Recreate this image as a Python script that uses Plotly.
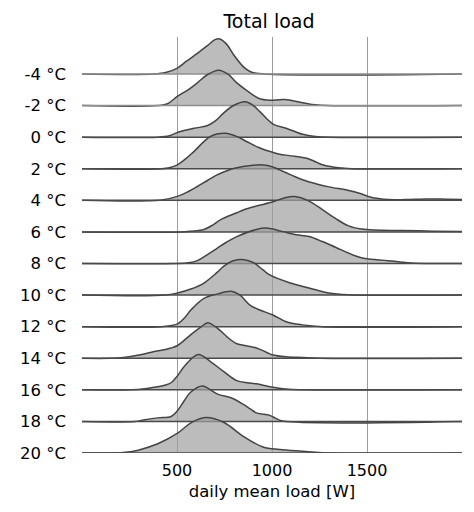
import plotly.graph_objects as go

# temperature classes, top to bottom
labels = ["-4 °C", "-2 °C", "0 °C", "2 °C", "4 °C", "6 °C", "8 °C",
          "10 °C", "12 °C", "14 °C", "16 °C", "18 °C", "20 °C"]

load_m4 = [0, 380, 440, 500, 550, 607, 660, 700, 725, 760, 797, 850, 884, 930, 2000]
dens_m4 = [0, 0, 0.04, 0.16, 0.36, 0.58, 0.80, 0.97, 0.99, 0.85, 0.55, 0.20, 0.07, 0.01, 0]

load_m2 = [0, 400, 450, 502, 560, 607, 659, 720, 770, 815, 884, 936, 988, 1066, 1161, 1230, 1290, 2000]
dens_m2 = [0, 0, 0.05, 0.26, 0.45, 0.64, 0.87, 1.0, 0.88, 0.64, 0.36, 0.19, 0.15, 0.17, 0.08, 0.02, 0, 0]

load_0 = [0, 400, 460, 502, 590, 658, 700, 745, 800, 858, 900, 936, 1005, 1074, 1120, 1161, 1230, 1300, 2000]
dens_0 = [0, 0, 0.04, 0.13, 0.25, 0.32, 0.45, 0.68, 0.9, 1.0, 0.9, 0.72, 0.37, 0.25, 0.16, 0.08, 0.02, 0, 0]

load_2 = [0, 420, 460, 502, 550, 590, 676, 754, 810, 866, 930, 988, 1040, 1092, 1178, 1220, 1265, 1320, 1370, 1420, 2000]
dens_2 = [0, 0, 0.03, 0.11, 0.3, 0.49, 0.91, 1.0, 0.92, 0.77, 0.6, 0.49, 0.41, 0.37, 0.3, 0.22, 0.11, 0.05, 0.02, 0, 0]

load_4 = [0, 420, 502, 560, 607, 660, 711, 770, 815, 880, 953, 1000, 1040, 1100, 1161, 1230, 1300, 1403,
          1460, 1507, 1560, 1611, 1700, 1780, 1851, 1920, 2000]
dens_4 = [0, 0.01, 0.11, 0.25, 0.39, 0.56, 0.72, 0.85, 0.92, 0.98, 1.0, 0.95, 0.86, 0.72, 0.58, 0.47, 0.38, 0.28,
          0.2, 0.11, 0.05, 0.02, 0.02, 0.03, 0.04, 0.03, 0.02]

load_6 = [0, 520, 572, 642, 690, 728, 815, 849, 918, 1005, 1060, 1118, 1195, 1265, 1334, 1403, 1472, 1540,
          1680, 1850, 2000]
dens_6 = [0, 0, 0.02, 0.07, 0.2, 0.34, 0.54, 0.62, 0.73, 0.85, 0.95, 1.0, 0.87, 0.63, 0.38, 0.17, 0.08, 0.05,
          0.04, 0.02, 0.01]

load_8 = [0, 500, 560, 607, 660, 711, 760, 815, 918, 970, 1057, 1126, 1195, 1265, 1334, 1437, 1489, 1611,
          1714, 1800, 2000]
dens_8 = [0, 0, 0.02, 0.08, 0.25, 0.43, 0.6, 0.76, 0.96, 1.0, 0.9, 0.81, 0.76, 0.62, 0.46, 0.22, 0.14, 0.08,
          0.02, 0, 0]

load_10 = [0, 440, 503, 573, 642, 711, 745, 797, 853, 901, 953, 988, 1092, 1195, 1299, 1403, 2000]
dens_10 = [0, 0, 0.06, 0.17, 0.34, 0.64, 0.81, 0.97, 1.0, 0.92, 0.71, 0.57, 0.35, 0.2, 0.06, 0.01, 0]

load_12 = [0, 420, 503, 540, 573, 642, 711, 785, 832, 884, 936, 1005, 1074, 1161, 1265, 2000]
dens_12 = [0, 0, 0.08, 0.25, 0.47, 0.8, 0.92, 1.0, 0.89, 0.61, 0.47, 0.33, 0.14, 0.05, 0, 0]

load_14 = [0, 150, 230, 300, 365, 469, 503, 573, 625, 662, 700, 728, 780, 815, 849, 918, 970, 1000, 1074,
           1161, 1250, 2000]
dens_14 = [0, 0, 0.03, 0.09, 0.17, 0.29, 0.36, 0.67, 0.88, 1.0, 0.9, 0.78, 0.53, 0.41, 0.37, 0.29, 0.17, 0.1, 0.04,
           0.02, 0, 0]

load_16 = [0, 261, 330, 365, 434, 469, 503, 538, 611, 676, 745, 815, 918, 988, 1074, 1160, 2000]
dens_16 = [0, 0, 0.03, 0.06, 0.13, 0.2, 0.4, 0.66, 1.0, 0.8, 0.52, 0.26, 0.17, 0.09, 0.02, 0, 0]

load_18 = [0, 280, 330, 399, 469, 503, 540, 573, 633, 711, 797, 849, 884, 918, 988, 1022, 1057, 2000]
dens_18 = [0, 0, 0.05, 0.1, 0.14, 0.31, 0.6, 0.83, 1.0, 0.78, 0.64, 0.48, 0.36, 0.24, 0.17, 0.08, 0.01, 0]

load_20 = [0, 150, 230, 296, 399, 503, 573, 650, 745, 849, 953, 1040, 1161, 1265, 2000]
dens_20 = [0, 0, 0.02, 0.08, 0.26, 0.56, 0.85, 1.0, 0.87, 0.47, 0.17, 0.1, 0.05, 0.01, 0]

loads = [load_m4, load_m2, load_0, load_2, load_4, load_6, load_8,
         load_10, load_12, load_14, load_16, load_18, load_20]
dens = [dens_m4, dens_m2, dens_0, dens_2, dens_4, dens_6, dens_8,
        dens_10, dens_12, dens_14, dens_16, dens_18, dens_20]

x_ticks = [500, 1000, 1500]
x_min, x_max = 0, 2000

scale = 1.12  # ridge height relative to row spacing
fig = go.Figure()

# rows drawn top to bottom, lower ridges lie over the upper baselines
for i in range(len(labels)):
    base = -i
    fig.add_trace(go.Scatter(x=[x_min, x_max], y=[base, base], mode="lines",
                             line=dict(width=0, color="rgba(0,0,0,0)"),
                             hoverinfo="skip", showlegend=False))
    fig.add_trace(go.Scatter(x=loads[i], y=[base + v * scale for v in dens[i]],
                             mode="lines", fill="tonexty", fillcolor="rgba(160,160,160,0.7)",
                             line=dict(color="#444444", width=1.5, shape="spline", smoothing=1),
                             name=labels[i], showlegend=False))
    col = "#8f8f8f" if i < 2 else "#4a4a4a"
    fig.add_trace(go.Scatter(x=[x_min, x_max], y=[base, base], mode="lines",
                             line=dict(color=col, width=1.5),
                             hoverinfo="skip", showlegend=False))

# the page body adds 8px, so margins are shifted to compensate
fig.update_layout(
    width=474, height=512,
    margin=dict(l=68, r=20, t=29, b=67),
    plot_bgcolor="white", paper_bgcolor="white",
    font=dict(family="DejaVu Sans", color="black", size=16),
    title=dict(text="Total load", x=(269 - 8) / 474, xanchor="center",
               y=1 - 13 / 512, yanchor="middle", font=dict(size=19)),
    showlegend=False,
)
fig.update_xaxes(range=[x_min, x_max], tickvals=x_ticks, ticktext=[str(t) for t in x_ticks],
                 showgrid=True, gridcolor="#9c9c9c", gridwidth=1.2, zeroline=False,
                 showline=False, ticks="", ticklabelstandoff=6,
                 tickfont=dict(size=16),
                 title=dict(text="daily mean load [W]", font=dict(size=16.5), standoff=6))
fig.update_yaxes(range=[-(len(labels) - 1), 1.17], tickvals=[-i for i in range(len(labels))],
                 ticktext=labels, showgrid=False, zeroline=False, showline=False,
                 ticks="", ticklabelstandoff=15, tickfont=dict(size=16.5))

fig.write_html("out.html")
